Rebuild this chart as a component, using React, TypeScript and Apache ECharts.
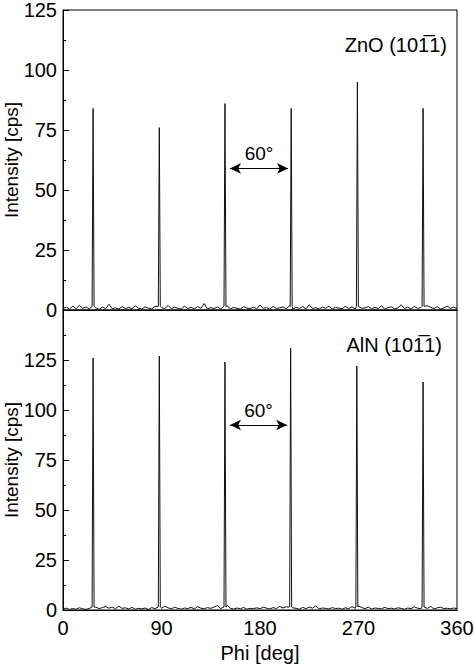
import React, { useEffect, useRef } from "react";
import * as echarts from "echarts";

// Phi sampling of the baseline noise (degrees), 3° apart
const phiTicks = [0, 90, 180, 270, 360];
const noiseStep = 3;

const topNoise = [
  0.6, 1.2, 0.4, 1.6, 0.5, 2.0, 0.7, 1.3, 0.4, 1.7, 0.9, 0.3, 1.2, 0.6, 2.4, 0.5, 0.9, 0.4, 1.4, 0.6,
  1.1, 0.5, 1.8, 0.7, 0.4, 1.3, 0.8, 0.5, 1.5, 0.4, 1.0, 0.6, 1.9, 0.5, 1.2, 0.7, 0.4, 1.6, 0.6, 1.1,
  0.5, 1.4, 0.7, 2.7, 0.4, 1.0, 0.6, 1.3, 0.4, 0.9, 1.7, 0.5, 1.1, 0.7, 0.4, 1.4, 0.8, 0.6, 1.2, 0.5,
  2.1, 0.7, 1.0, 0.4, 1.5, 0.6, 0.9, 1.3, 0.5, 1.8, 0.4, 1.1, 0.7, 1.4, 0.5, 2.2, 0.6, 1.0, 0.4, 1.2,
  0.7, 1.6, 0.4, 1.1, 0.8, 0.5, 1.5, 0.6, 1.3, 0.4, 2.0, 0.7, 0.9, 1.4, 0.5, 1.1, 0.6, 1.7, 0.4, 1.0,
  1.3, 0.5, 0.9, 2.2, 0.6, 1.2, 0.4, 1.5, 0.7, 1.0, 0.5, 1.8, 1.1, 0.6, 1.4, 0.4, 0.9, 1.6, 0.7, 1.2,
  0.6,
];

const bottomNoise = [
  0.5, 0.9, 0.3, 0.7, 0.4, 1.1, 0.6, 0.3, 0.8, 0.4, 1.4, 0.7, 1.2, 1.8, 0.9, 1.5, 0.6, 2.0, 0.8, 1.1,
  0.5, 1.3, 0.4, 0.8, 0.6, 1.0, 0.3, 1.2, 0.7, 0.5, 0.9, 1.9, 1.1, 0.6, 1.4, 0.8, 0.4, 1.0, 0.7, 1.3,
  0.5, 1.7, 0.9, 0.6, 1.2, 0.8, 1.5, 2.2, 0.7, 1.1, 2.4, 0.8, 0.5, 1.0, 0.6, 1.3, 0.4, 0.8, 0.7, 1.1,
  0.6, 1.4, 0.9, 0.5, 1.2, 0.7, 1.8, 1.0, 1.6, 0.6, 1.1, 0.8, 0.4, 1.3, 0.7, 1.5, 0.9, 2.1, 0.6, 1.0,
  0.8, 0.5, 1.2, 0.7, 0.9, 0.4, 1.1, 0.6, 1.7, 0.8, 2.0, 1.2, 0.7, 1.4, 0.5, 1.0, 0.8, 0.6, 1.3, 0.7,
  0.9, 0.5, 1.1, 0.8, 0.4, 1.0, 0.7, 1.6, 0.9, 0.6, 1.2, 0.8, 1.8, 0.5, 1.1, 1.4, 0.7, 0.9, 0.6, 1.0,
  0.7,
];

// ZnO (10-11) reflections
const topPeakPhi = [27.5, 88, 148, 208.5, 269, 329];
const topPeakHeight = [84, 76, 86, 84, 95, 84];
// AlN (10-11) reflections
const bottomPeakPhi = [27.5, 88, 148, 208, 268.5, 329];
const bottomPeakHeight = [126, 127, 124, 131, 122, 114];
const peakBase = 1.5;
const peakHalfWidth = 0.9;

const topLabel = "ZnO (101\u03051)";
const bottomLabel = "AlN (101\u03051)";
const arrowLabel = "60°";
const topArrow = { from: 152.6, to: 205.6, y: 59 };
const bottomArrow = { from: 152.6, to: 204.8, y: 92.5 };

function buildSeries(noise: number[], centers: number[], heights: number[]) {
  const pts: [number, number][] = [];
  noise.forEach((v, i) => {
    const x = i * noiseStep;
    if (centers.every((c) => Math.abs(c - x) > peakHalfWidth + 0.3)) pts.push([x, v]);
  });
  centers.forEach((c, i) => {
    pts.push([c - peakHalfWidth, peakBase]);
    pts.push([c, heights[i]]);
    pts.push([c + peakHalfWidth, peakBase]);
  });
  pts.sort((a, b) => a[0] - b[0]);
  return pts;
}

const FONT = "'Liberation Sans', Arial, sans-serif";
const BLACK = "#000";

export default function App() {
  const ref = useRef<HTMLDivElement>(null);
  useEffect(() => {
    if (!ref.current) return;
    const chart = echarts.init(ref.current, undefined, { renderer: "svg" });

    const yAxisBase = (gridIndex: number, max: number, hideTop: boolean) => ({
      type: "value",
      gridIndex,
      min: 0,
      max,
      interval: 25,
      name: "Intensity [cps]",
      nameLocation: "middle",
      nameGap: 42,
      nameMoveOverlap: false,
      nameTextStyle: { fontFamily: FONT, fontSize: 19, color: BLACK, lineHeight: 20 },
      axisLine: { show: true, lineStyle: { color: BLACK, width: 1 } },
      axisTick: { show: true, inside: true, length: 6, lineStyle: { color: BLACK } },
      minorTick: { show: true, splitNumber: 2, length: 3, lineStyle: { color: BLACK } },
      splitLine: { show: false },
      axisLabel: {
        fontFamily: FONT,
        fontSize: 20,
        color: BLACK,
        margin: 6,
        formatter: (v: number) => (hideTop && v === max ? "" : String(v)),
      },
    });

    const arrowMark = (a: { from: number; to: number; y: number }) => ({
      silent: true,
      symbol: ["arrow", "arrow"],
      symbolSize: [8, 11],
      lineStyle: { color: BLACK, width: 1, type: "solid" },
      label: {
        show: true,
        position: "middle",
        formatter: arrowLabel,
        fontFamily: FONT,
        fontSize: 19,
        color: BLACK,
        distance: 5,
      },
      data: [[{ coord: [a.from, a.y] }, { coord: [a.to, a.y] }]],
    });

    chart.setOption({
      animation: false,
      grid: [
        {
          left: 63, right: 17, top: 10, height: 300, show: true,
          borderColor: BLACK, borderWidth: 1, outerBoundsMode: "none", containLabel: false,
        },
        {
          left: 63, right: 17, top: 310, height: 300, show: true,
          borderColor: BLACK, borderWidth: 1, outerBoundsMode: "none", containLabel: false,
        },
      ],
      xAxis: [
        {
          type: "value",
          gridIndex: 0,
          min: 0,
          max: 360,
          interval: 90,
          axisLine: { show: true, lineStyle: { color: BLACK } },
          axisTick: { show: false },
          axisLabel: { show: false },
          splitLine: { show: false },
        },
        {
          type: "value",
          gridIndex: 1,
          min: 0,
          max: 360,
          interval: 90,
          name: "Phi [deg]",
          nameLocation: "middle",
          nameGap: 33,
          nameMoveOverlap: false,
          nameTextStyle: { fontFamily: FONT, fontSize: 20, color: BLACK },
          axisLine: { show: true, lineStyle: { color: BLACK } },
          axisTick: { show: false },
          axisLabel: {
            fontFamily: FONT,
            fontSize: 20,
            color: BLACK,
            margin: 8,
            customValues: phiTicks,
          },
          splitLine: { show: false },
        },
      ],
      yAxis: [yAxisBase(0, 125, false), yAxisBase(1, 150, true)],
      series: [
        {
          type: "line",
          xAxisIndex: 0,
          yAxisIndex: 0,
          data: buildSeries(topNoise, topPeakPhi, topPeakHeight),
          showSymbol: false,
          lineStyle: { color: "#111", width: 1 },
          markLine: arrowMark(topArrow),
        },
        {
          type: "line",
          xAxisIndex: 1,
          yAxisIndex: 1,
          data: buildSeries(bottomNoise, bottomPeakPhi, bottomPeakHeight),
          showSymbol: false,
          lineStyle: { color: "#111", width: 1 },
          markLine: arrowMark(bottomArrow),
        },
      ],
      graphic: [
        {
          type: "text",
          x: 447,
          y: 45,
          style: {
            text: topLabel,
            fontFamily: FONT,
            fontSize: 20,
            fill: BLACK,
            textAlign: "right",
            textVerticalAlign: "middle",
          },
        },
        {
          type: "text",
          x: 442,
          y: 345,
          style: {
            text: bottomLabel,
            fontFamily: FONT,
            fontSize: 20,
            fill: BLACK,
            textAlign: "right",
            textVerticalAlign: "middle",
          },
        },
      ],
    });
    return () => chart.dispose();
  }, []);

  return (
    <div
      ref={ref}
      style={{ position: "fixed", left: 0, top: 0, width: 474, height: 666, background: "#fff" }}
    />
  );
}
